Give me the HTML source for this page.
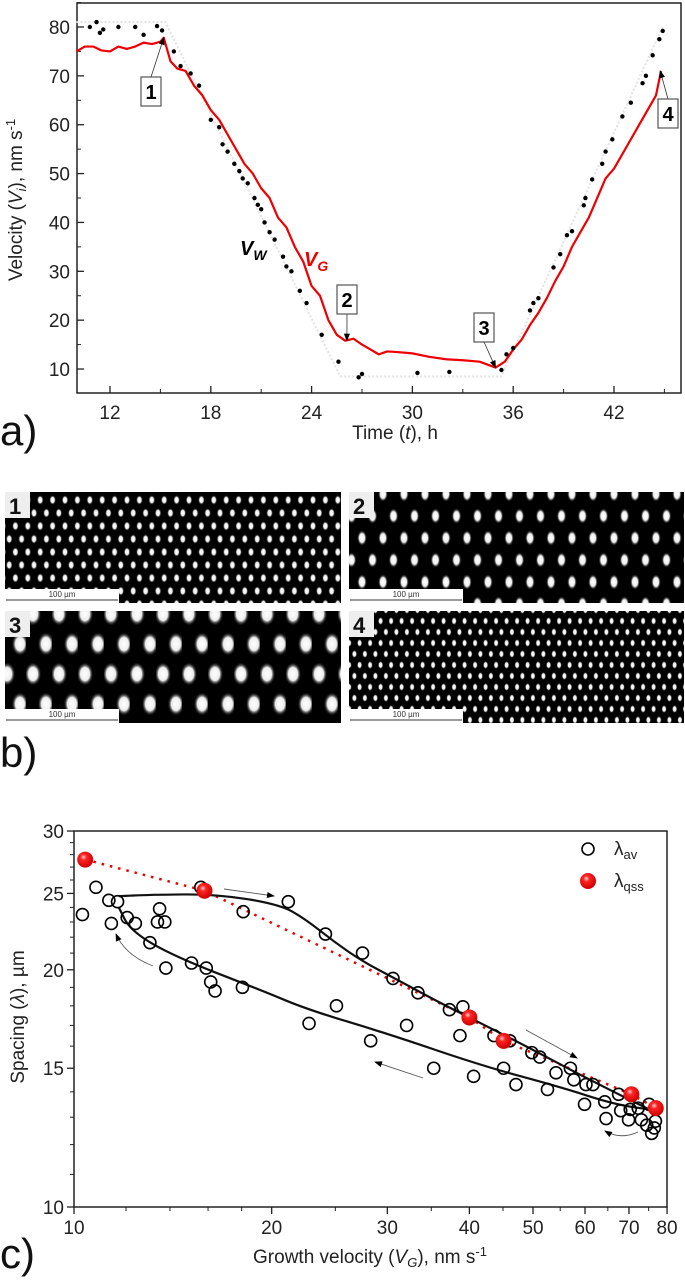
<!DOCTYPE html>
<html><head><meta charset="utf-8"><style>
html,body{margin:0;padding:0;background:#fff;}
svg{display:block;font-family:"Liberation Sans",sans-serif;}
</style></head><body>
<svg id="fig" width="685" height="1281" viewBox="0 0 685 1281" xmlns="http://www.w3.org/2000/svg">
<defs>
  <radialGradient id="blob"><stop offset="0" stop-color="#fff"/><stop offset="0.55" stop-color="#eee"/><stop offset="1" stop-color="#000" stop-opacity="0"/></radialGradient>
  <pattern id="p1" width="12.4" height="26" patternUnits="userSpaceOnUse"><rect width="12.4" height="26" fill="#000"/><ellipse cx="3" cy="6" rx="3.4" ry="5" fill="url(#blob)"/><ellipse cx="9.2" cy="19" rx="3.4" ry="5" fill="url(#blob)"/></pattern>
  <pattern id="p2" width="21" height="44" patternUnits="userSpaceOnUse"><rect width="21" height="44" fill="#000"/><ellipse cx="5" cy="10" rx="5" ry="8" fill="url(#blob)"/><ellipse cx="15.5" cy="32" rx="5" ry="8" fill="url(#blob)"/></pattern>
  <pattern id="p3" width="26" height="60" patternUnits="userSpaceOnUse"><rect width="26" height="60" fill="#000"/><ellipse cx="7" cy="14" rx="8.5" ry="12" fill="url(#blob)"/><ellipse cx="20" cy="44" rx="8.5" ry="12" fill="url(#blob)"/></pattern>
  <pattern id="p4" width="10.5" height="22" patternUnits="userSpaceOnUse"><rect width="10.5" height="22" fill="#000"/><ellipse cx="2.6" cy="5" rx="2.8" ry="4.2" fill="url(#blob)"/><ellipse cx="7.9" cy="16" rx="2.8" ry="4.2" fill="url(#blob)"/></pattern>
  <radialGradient id="ball" cx="0.4" cy="0.35" r="0.65"><stop offset="0" stop-color="#ffd0d0"/><stop offset="0.3" stop-color="#f22"/><stop offset="1" stop-color="#c00"/></radialGradient>
  <marker id="ah" markerWidth="8" markerHeight="6" refX="7" refY="3" orient="auto" markerUnits="userSpaceOnUse"><path d="M0,0 L8,3 L0,6 z" fill="#000"/></marker>
</defs>

<!-- Panel a -->
<g id="chartA">
  <g id="aGrid"></g>
  <rect x="77" y="3" width="604" height="390" fill="none" stroke="#222" stroke-width="1.5"/>
  <g id="aTicks"></g>
  <g id="aSeries"></g>
  <text x="22" y="200" font-size="19" fill="#222" text-anchor="middle" transform="rotate(-90 22 200)">Velocity (<tspan font-style="italic">V</tspan><tspan font-style="italic" font-size="13" dy="4">i</tspan><tspan dy="-4">), nm s</tspan><tspan font-size="13" dy="-7">-1</tspan></text>
  <text x="395" y="439" font-size="19" fill="#222" text-anchor="middle">Time (<tspan font-style="italic">t</tspan>), h</text>
  <text x="0" y="445" font-size="42" fill="#111">a)</text>
  <text x="240" y="255" font-size="20" font-weight="bold" font-style="italic" fill="#000">V<tspan font-size="14" dy="5">W</tspan></text>
  <text x="304" y="266" font-size="20" font-weight="bold" font-style="italic" fill="#e00">V<tspan font-size="14" dy="5">G</tspan></text>
  <g id="annots" font-size="20" font-weight="bold"></g>
</g>

<!-- Panel b -->
<g>
  <rect x="5" y="492" width="336" height="111" fill="url(#p1)"/>
  <rect x="349" y="492" width="335" height="111" fill="url(#p2)"/>
  <rect x="5" y="611" width="336" height="112" fill="url(#p3)"/>
  <rect x="349" y="611" width="335" height="112" fill="url(#p4)"/>
  <g font-size="22" font-weight="bold" fill="#111">
    <rect x="5" y="492" width="25" height="26" fill="#eee"/><text x="9" y="514">1</text>
    <rect x="349" y="492" width="25" height="26" fill="#eee"/><text x="353" y="514">2</text>
    <rect x="5" y="611" width="25" height="26" fill="#eee"/><text x="9" y="633">3</text>
    <rect x="349" y="611" width="25" height="26" fill="#eee"/><text x="353" y="633">4</text>
  </g>
  <g font-size="8" fill="#333" text-anchor="middle">
    <rect x="5" y="589" width="114" height="14" fill="#fff"/><line x1="6" y1="600" x2="118" y2="600" stroke="#333"/><text x="62" y="597">100 µm</text>
    <rect x="349" y="589" width="114" height="14" fill="#fff"/><line x1="350" y1="600" x2="462" y2="600" stroke="#333"/><text x="406" y="597">100 µm</text>
    <rect x="5" y="709" width="114" height="14" fill="#fff"/><line x1="6" y1="720" x2="118" y2="720" stroke="#333"/><text x="62" y="717">100 µm</text>
    <rect x="349" y="709" width="114" height="14" fill="#fff"/><line x1="350" y1="720" x2="462" y2="720" stroke="#333"/><text x="406" y="717">100 µm</text>
  </g>
  <text x="0" y="767" font-size="42" fill="#111">b)</text>
</g>

<!-- Panel c -->
<g id="chartC">
  <rect x="74" y="831" width="593" height="376" fill="none" stroke="#222" stroke-width="1.5"/>
  <g id="cTicks"></g>
  <g id="cSeries"></g>
  <text x="24" y="1017" font-size="19" fill="#222" text-anchor="middle" transform="rotate(-90 24 1017)">Spacing (<tspan font-style="italic">λ</tspan>), µm</text>
  <text x="370" y="1263" font-size="19" fill="#222" text-anchor="middle">Growth velocity (<tspan font-style="italic">V</tspan><tspan font-style="italic" font-size="13" dy="4">G</tspan><tspan dy="-4">), nm s</tspan><tspan font-size="13" dy="-7">-1</tspan></text>
  <text x="0" y="1268" font-size="42" fill="#111">c)</text>
  <g>
    <circle cx="588" cy="849" r="6" fill="none" stroke="#000" stroke-width="1.6"/>
    <text x="614" y="855" font-size="19" fill="#222">λ<tspan font-size="13" dy="4">av</tspan></text>
    <circle cx="588" cy="881" r="8" fill="url(#ball)"/>
    <text x="614" y="887" font-size="19" fill="#222">λ<tspan font-size="13" dy="4">qss</tspan></text>
  </g>
</g>
</svg>
<script>
const NS="http://www.w3.org/2000/svg";
// ---- Panel a data ----
const aXTicks=[12,18,24,30,36,42];
const aYTicks=[10,20,30,40,50,60,70,80];
const vgTime=[10,10.5,11,11.5,12,12.5,13,13.5,14,14.5,15,15.2,15.6,16,16.5,17,17.5,18,18.5,19,19.5,20,20.5,21,21.5,22,22.5,23,23.5,24,24.5,25,25.5,26,26.5,27,27.5,28,28.5,29,30,31,32,33,34,34.95,35.5,36,36.5,37,37.5,38,38.5,39,39.5,40,40.5,41,41.5,42,42.5,43,43.5,44,44.5,44.8];
const vgValue=[75,76,76,75.2,75,76,75.5,76,76.8,76.5,77,77.8,73,71.5,71,68,66,63,61,58,55,52,50,47,45,41,39,35,32,27,25,20,17,15.8,16.2,15,14,13,13.6,13.5,13.2,12.5,12,11.8,11.5,10.3,11.5,14,16,19,21.5,24.5,28,31,35,38,41,45,49,51,54,57,60,63,66,71];
const vwTime=[10.8,11.2,11.4,11.6,12.5,13.5,14,14.8,15.1,15.8,16.2,16.8,17.3,18,18.5,18.7,19,19.4,19.7,19.9,20.2,20.6,20.8,21,21.2,21.5,21.8,22.3,22.5,22.8,23.3,23.7,24.6,25.6,26.8,27,30.3,32.2,35.3,35.6,36,37,37.2,37.5,38.4,38.8,39.2,39.5,40.2,40.3,40.7,41.3,41.5,41.9,42.5,43,43.7,43.9,44.3,44.7,44.9];
const vwValue=[80,81,78.8,79.5,80,80,78.4,80.2,79.3,75,72,70.5,68,61,59.5,56,54.5,52,50.5,49,48,45,43.6,42.7,40,38,36.5,33,31,30,26,23.5,17,11.5,8.3,9,9.2,9.4,9.8,13,14.3,22,23.5,24.5,30.8,33.5,37.4,38.2,43.5,45,48.8,52,54.5,57,61.7,64.5,68.5,70,74.2,77.5,79.2];
const setTime=[10,15.3,25.7,35.3,44.9];
const setValue=[81,81,8.5,8.5,80];
const annotLabels=["1","2","3","4"];
const annotTime=[15.2,26.1,34.95,44.75];
const annotValue=[77.8,15.8,10.3,71];

const ax=t=>76.4+(t-10)*16.8;
const ay=v=>27+(80-v)*4.886;
function mk(tag,attrs,parent){const e=document.createElementNS(NS,tag);for(const k in attrs)e.setAttribute(k,attrs[k]);parent.appendChild(e);return e;}

const aT=document.getElementById('aTicks');
aXTicks.forEach(t=>{
  const l=mk('line',{x1:ax(t),y1:393,x2:ax(t),y2:386,stroke:'#222','stroke-width':1.3},aT);
  
  
  const m=mk('line',{x1:ax(t+3),y1:393,x2:ax(t+3),y2:389,stroke:'#222'},aT);
  
  
  const tx=mk('text',{x:ax(t),y:419,'font-size':19,'text-anchor':'middle',fill:'#222'},aT);
  tx.textContent=t;
  
  
});
aYTicks.forEach(v=>{
  const l=mk('line',{x1:77,y1:ay(v),x2:84,y2:ay(v),stroke:'#222','stroke-width':1.3},aT);
  
  
  const m=mk('line',{x1:77,y1:ay(v+5),x2:81,y2:ay(v+5),stroke:'#222'},aT);
  
  
  const tx=mk('text',{x:70,y:ay(v)+7,'font-size':19,'text-anchor':'end',fill:'#222'},aT);
  tx.textContent=v;
  
  
});
const aS=document.getElementById('aSeries');
const sp=mk('polyline',{points:setTime.map((t,i)=>ax(t)+','+ay(setValue[i])).join(' '),fill:'none',stroke:'#e2e2e2','stroke-width':2,'stroke-dasharray':'2 2'},aS);


const vg=mk('polyline',{points:vgTime.map((t,i)=>ax(t)+','+ay(vgValue[i])).join(' '),fill:'none',stroke:'#e00','stroke-width':2.2,'stroke-linejoin':'round'},aS);


vwTime.forEach((t,i)=>{
  const c=mk('circle',{cx:ax(t),cy:ay(vwValue[i]),r:2.2,fill:'#000'},aS);
  
  
});
const boxes=[[141,77],[337,285],[474,313],[658,99]];
const an=document.getElementById('annots');
annotLabels.forEach((lab,i)=>{
  const [bx,by]=boxes[i];
  const px=ax(annotTime[i]),py=ay(annotValue[i]);
  const sx=bx+10, sy=(i===3)?by:(i===0?by:by+29);
  const ln=mk('line',{x1:sx,y1:sy,x2:px,y2:py,stroke:'#333','stroke-width':0.8,'marker-end':'url(#ah)'},an);
  
  
  const r=mk('rect',{x:bx,y:by,width:20,height:29,fill:'#fff',stroke:'#555','stroke-width':1.2},an);
  
  
  const tx=mk('text',{x:bx+10,y:by+22,'text-anchor':'middle',fill:'#000'},an);
  tx.textContent=lab;
  
  
});

// ---- Panel c data ----
const cXTicks=[10,20,30,40,50,60,70,80];
const cXMinor=[12,14,16,18,25,35,45,55,65,75];
const cYTicks=[10,15,20,25,30];
const cYMinor=[11,12,13,14,16,17,18,19,21,22,23,24,26,27,28,29];
const avVelocity=[10.3,10.8,11.3,11.4,11.65,12.05,12.4,13.05,13.4,13.5,13.75,13.8,15.1,15.9,16.15,16.4,15.6,18.05,18.1,21.2,22.8,24.15,25.1,27.5,28.3,30.6,32.1,33.4,35.3,37.3,38.7,39.1,40.6,43.6,45.1,46.1,47.1,49.8,51.2,52.6,54.2,57.0,57.7,59.9,60.2,61.7,64.3,64.6,67.5,68.0,69.9,70.3,72.3,73.1,74.5,75.1,75.8,76.5,76.8];
const avSpacing=[23.5,25.45,24.5,22.9,24.4,23.3,22.9,21.65,23.0,23.9,23.0,20.1,20.4,20.1,19.3,18.8,25.45,19.0,23.7,24.4,17.1,22.2,18.0,21.0,16.25,19.5,17.0,18.7,15.0,17.8,16.5,17.95,14.65,16.5,15.0,16.25,14.3,15.7,15.5,14.1,14.8,15.0,14.5,13.5,14.3,14.3,13.6,12.95,13.9,13.25,12.9,13.3,13.35,12.9,12.7,13.5,12.4,12.6,12.85];
const qssVelocity=[10.4,15.8,40.0,45.1,70.6,76.9];
const qssSpacing=[27.6,25.2,17.4,16.25,13.9,13.35];
const upVelocity=[11.7,13,16.5,20.6,22.5,24.9,27.5,30.8,35.9,40,48.8,60,75.1];
const upSpacing=[24.8,24.9,24.95,24.2,23.2,21.7,20.5,19.5,18.2,17.4,16.0,14.6,13.3];
const downVelocity=[75.1,66.5,55,41.9,30,22.7,19.4,14.2,12.2,11.7];
const downSpacing=[13.3,13.5,14.2,15.1,16.6,17.8,18.8,20.8,22.4,24.0];

const cx=v=>74+(Math.log10(v)-1)*656.7;
const cy=l=>1207-(Math.log10(l)-1)*788;
const cT=document.getElementById('cTicks');
cXTicks.forEach(v=>{
  const l=mk('line',{x1:cx(v),y1:1207,x2:cx(v),y2:1214,stroke:'#222','stroke-width':1.3},cT);
  
  
  const tx=mk('text',{x:cx(v),y:1234,'font-size':19,'text-anchor':'middle',fill:'#222'},cT);
  tx.textContent=v;
  
  
});
cXMinor.forEach(v=>{
  const l=mk('line',{x1:cx(v),y1:1207,x2:cx(v),y2:1211,stroke:'#222'},cT);
  
  
});
cYTicks.forEach(v=>{
  const l=mk('line',{x1:67,y1:cy(v),x2:74,y2:cy(v),stroke:'#222','stroke-width':1.3},cT);
  
  
  const tx=mk('text',{x:64,y:cy(v)+7,'font-size':19,'text-anchor':'end',fill:'#222'},cT);
  tx.textContent=v;
  
  
});
cYMinor.forEach(v=>{
  const l=mk('line',{x1:70,y1:cy(v),x2:74,y2:cy(v),stroke:'#222'},cT);
  
  
});
const cS=document.getElementById('cSeries');
const ql=mk('polyline',{points:qssVelocity.map((v,i)=>cx(v)+','+cy(qssSpacing[i])).join(' '),fill:'none',stroke:'#e00','stroke-width':2.5,'stroke-dasharray':'2.5 6'},cS);


function smooth(xs,ys){let d='M'+cx(xs[0])+','+cy(ys[0]);for(let i=1;i<xs.length;i++){const x0=cx(xs[i-1]),y0=cy(ys[i-1]),x1=cx(xs[i]),y1=cy(ys[i]);const mx=(x0+x1)/2,my=(y0+y1)/2;d+=' Q'+x0+','+y0+' '+mx+','+my;}d+=' L'+cx(xs[xs.length-1])+','+cy(ys[ys.length-1]);return d;}
const up=mk('path',{d:smooth(upVelocity,upSpacing),fill:'none',stroke:'#111','stroke-width':2.2},cS);


const dn=mk('path',{d:smooth(downVelocity,downSpacing),fill:'none',stroke:'#111','stroke-width':2.2},cS);


avVelocity.forEach((v,i)=>{
  const c=mk('circle',{cx:cx(v),cy:cy(avSpacing[i]),r:6,fill:'none',stroke:'#000','stroke-width':1.6},cS);
  
  
});
qssVelocity.forEach((v,i)=>{
  const c=mk('circle',{cx:cx(v),cy:cy(qssSpacing[i]),r:8,fill:'url(#ball)'},cS);
  
  
});
const arrows=[['M224,889 L274,896'],['M526,1030 L577,1058'],['M423,1078 L375,1062'],['M153,966 Q125,955 116,934'],['M638,1132 Q620,1140 605,1131']];
arrows.forEach(a=>{
  const p=mk('path',{d:a[0],fill:'none',stroke:'#555','stroke-width':0.9,'marker-end':'url(#ah)'},cS);
  
  
});
</script>
</body></html>
